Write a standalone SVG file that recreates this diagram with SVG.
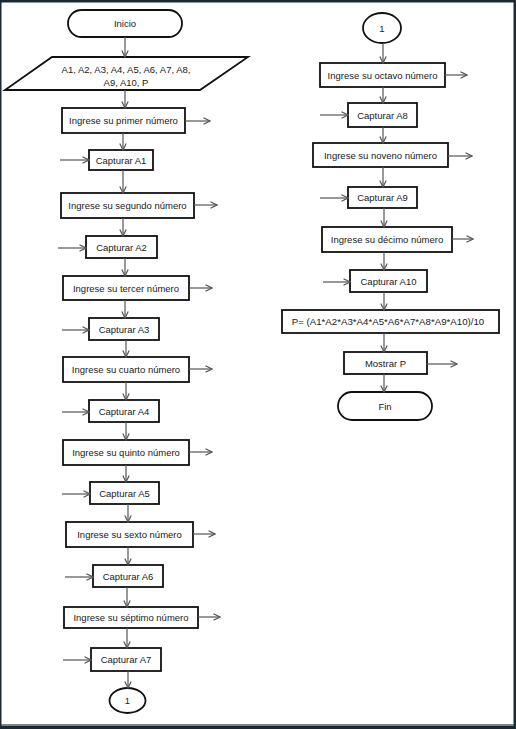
<svg xmlns="http://www.w3.org/2000/svg" width="516" height="729" viewBox="0 0 516 729">
<defs>
<marker id="ah" viewBox="0 0 8 8" refX="7.5" refY="4" markerWidth="8" markerHeight="8" markerUnits="userSpaceOnUse" orient="auto">
<path d="M1,0.8 L7.5,4 L1,7.2" fill="none" stroke="#555" stroke-width="1.2"/>
</marker>
</defs>
<style>
.n{fill:#fff;stroke:#111;stroke-width:1.8}
.t{font-family:"Liberation Sans",Arial,sans-serif;font-size:9.5px;fill:#1a1a1a;text-anchor:middle}
.c line{stroke:#555;stroke-width:1.2;marker-end:url(#ah)}
</style>
<rect x="0" y="0" width="516" height="729" fill="#1c2a36"/>
<rect x="1.5" y="2.5" width="512" height="722" fill="#fff"/>
<rect x="1.5" y="724.5" width="512" height="1.5" fill="#7a8274"/>

<g id="inicio"><rect class="n" x="68" y="10" width="114" height="27" rx="13.5"/><text class="t" x="125" y="27">Inicio</text></g>
<g id="vars"><polygon class="n" points="52,57 248,57 200,90 5,90"/><text class="t" x="126" y="73">A1, A2, A3, A4, A5, A6, A7, A8,</text><text class="t" x="126" y="86">A9, A10, P</text></g>
<g id="in1"><rect class="n" x="62" y="108" width="123" height="25"/><text class="t" x="123.5" y="124">Ingrese su primer número</text></g>
<g id="cap1"><rect class="n" x="89" y="150" width="64" height="20"/><text class="t" x="121" y="163.5">Capturar A1</text></g>
<g id="in2"><rect class="n" x="61" y="193" width="133" height="25"/><text class="t" x="127.5" y="209">Ingrese su segundo número</text></g>
<g id="cap2"><rect class="n" x="86" y="236" width="71" height="22"/><text class="t" x="121.5" y="250.5">Capturar A2</text></g>
<g id="in3"><rect class="n" x="63" y="276" width="126" height="24"/><text class="t" x="126" y="291.5">Ingrese su tercer número</text></g>
<g id="cap3"><rect class="n" x="89" y="318" width="70" height="22"/><text class="t" x="124" y="332.5">Capturar A3</text></g>
<g id="in4"><rect class="n" x="63" y="357" width="126" height="25"/><text class="t" x="126" y="372.5">Ingrese su cuarto número</text></g>
<g id="cap4"><rect class="n" x="89" y="400" width="70" height="22"/><text class="t" x="124" y="414.5">Capturar A4</text></g>
<g id="in5"><rect class="n" x="63" y="440" width="126" height="25"/><text class="t" x="126" y="455.5">Ingrese su quinto número</text></g>
<g id="cap5"><rect class="n" x="90" y="482" width="69" height="22"/><text class="t" x="124.5" y="496.5">Capturar A5</text></g>
<g id="in6"><rect class="n" x="66" y="522" width="127" height="25"/><text class="t" x="129.5" y="537.5">Ingrese su sexto número</text></g>
<g id="cap6"><rect class="n" x="93" y="565" width="70" height="22"/><text class="t" x="128" y="579.5">Capturar A6</text></g>
<g id="in7"><rect class="n" x="64" y="607" width="134" height="21"/><text class="t" x="131" y="620.5">Ingrese su séptimo número</text></g>
<g id="cap7"><rect class="n" x="91" y="648" width="70" height="23"/><text class="t" x="126" y="662.5">Capturar A7</text></g>
<g id="con1"><ellipse class="n" cx="127.5" cy="700.5" rx="18" ry="12.5"/><text class="t" x="127.5" y="704">1</text></g>

<g id="con2"><ellipse class="n" cx="382" cy="28" rx="19" ry="15"/><text class="t" x="382" y="31.5">1</text></g>
<g id="in8"><rect class="n" x="320" y="63" width="125" height="24"/><text class="t" x="382.5" y="78.5">Ingrese su octavo número</text></g>
<g id="cap8"><rect class="n" x="348" y="103" width="69" height="24"/><text class="t" x="382.5" y="118.5">Capturar A8</text></g>
<g id="in9"><rect class="n" x="313" y="143" width="135" height="24"/><text class="t" x="380.5" y="158.5">Ingrese su noveno número</text></g>
<g id="cap9"><rect class="n" x="348" y="187" width="69" height="21"/><text class="t" x="382.5" y="200.5">Capturar A9</text></g>
<g id="in10"><rect class="n" x="322" y="227" width="130" height="25"/><text class="t" x="387" y="242.5">Ingrese su décimo número</text></g>
<g id="cap10"><rect class="n" x="350" y="270" width="77" height="22"/><text class="t" x="388.5" y="284.5">Capturar A10</text></g>
<g id="calc"><rect class="n" x="282" y="310" width="217" height="23"/><text class="t" x="388" y="325" style="font-size:9.7px">P= (A1*A2*A3*A4*A5*A6*A7*A8*A9*A10)/10</text></g>
<g id="mostrar"><rect class="n" x="344" y="352" width="83" height="22"/><text class="t" x="385.5" y="366.5">Mostrar P</text></g>
<g id="fin"><rect class="n" x="338" y="392" width="94" height="28" rx="14"/><text class="t" x="385" y="409.5">Fin</text></g>

<g id="connectors" class="c">
<line x1="125" y1="37" x2="125" y2="57"/>
<line x1="125" y1="90" x2="125" y2="108"/>
<line x1="185" y1="121" x2="210" y2="121"/>
<line x1="123" y1="133" x2="123" y2="150"/>
<line x1="60" y1="160" x2="89" y2="160"/>
<line x1="123" y1="170" x2="123" y2="193"/>
<line x1="194" y1="205" x2="217" y2="205"/>
<line x1="123" y1="218" x2="123" y2="236"/>
<line x1="58" y1="248" x2="86" y2="248"/>
<line x1="125" y1="258" x2="125" y2="276"/>
<line x1="189" y1="288" x2="212" y2="288"/>
<line x1="125" y1="300" x2="125" y2="318"/>
<line x1="62" y1="330" x2="89" y2="330"/>
<line x1="126" y1="340" x2="126" y2="357"/>
<line x1="189" y1="369" x2="212" y2="369"/>
<line x1="126" y1="382" x2="126" y2="400"/>
<line x1="62" y1="412" x2="89" y2="412"/>
<line x1="126" y1="422" x2="126" y2="440"/>
<line x1="189" y1="452" x2="212" y2="452"/>
<line x1="126" y1="465" x2="126" y2="482"/>
<line x1="62" y1="494" x2="90" y2="494"/>
<line x1="128" y1="504" x2="128" y2="522"/>
<line x1="193" y1="534" x2="215" y2="534"/>
<line x1="128" y1="547" x2="128" y2="565"/>
<line x1="65" y1="577" x2="93" y2="577"/>
<line x1="127" y1="587" x2="127" y2="607"/>
<line x1="198" y1="617" x2="220" y2="617"/>
<line x1="127" y1="628" x2="127" y2="648"/>
<line x1="63" y1="660" x2="91" y2="660"/>
<line x1="128" y1="671" x2="128" y2="688"/>
<line x1="383" y1="43" x2="383" y2="63"/>
<line x1="445" y1="75" x2="467" y2="75"/>
<line x1="383" y1="87" x2="383" y2="103"/>
<line x1="320" y1="115" x2="348" y2="115"/>
<line x1="383" y1="127" x2="383" y2="143"/>
<line x1="448" y1="156" x2="472" y2="156"/>
<line x1="383" y1="167" x2="383" y2="187"/>
<line x1="320" y1="198" x2="348" y2="198"/>
<line x1="384" y1="208" x2="384" y2="227"/>
<line x1="452" y1="239" x2="473" y2="239"/>
<line x1="384" y1="252" x2="384" y2="270"/>
<line x1="323" y1="282" x2="350" y2="282"/>
<line x1="384" y1="292" x2="384" y2="310"/>
<line x1="384" y1="333" x2="384" y2="352"/>
<line x1="427" y1="364" x2="457" y2="364"/>
<line x1="384" y1="374" x2="384" y2="392"/>
</g>
</svg>
